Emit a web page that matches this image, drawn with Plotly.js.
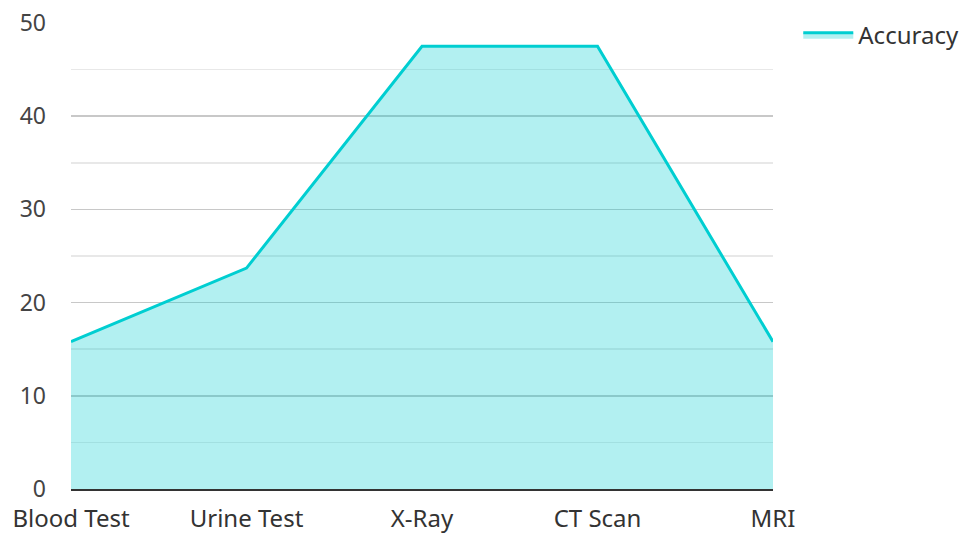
<!DOCTYPE html>
<html>
<head>
<meta charset="utf-8">
<script src="https://cdn.plot.ly/plotly-3.0.1.min.js"></script>
<style>html,body{margin:0;padding:0;background:#fff;}#chart{width:963px;height:533px;}</style>
</head>
<body>
<div id="chart"></div>
<script>
const categories = ["Blood Test", "Urine Test", "X-Ray", "CT Scan", "MRI"];
const accuracy = [15.8, 23.7, 47.5, 47.5, 15.8];
const seriesName = "Accuracy";

const trace = {
  x: categories,
  y: accuracy,
  name: seriesName,
  type: "scatter",
  mode: "lines",
  fill: "tozeroy",
  fillcolor: "rgba(0,206,209,0.3)",
  line: {color: "#00CED1", width: 3}
};

const layout = {
  width: 963,
  height: 533,
  margin: {l: 71, r: 190, t: 23, b: 44, autoexpand: false},
  paper_bgcolor: "#fff",
  plot_bgcolor: "#fff",
  font: {family: "Noto Sans, Open Sans, sans-serif", size: 23, color: "#444"},
  showlegend: true,
  legend: {x: 1.036, y: 1.022, xanchor: "left", yanchor: "top", itemwidth: 50, font: {size: 24, color: "#333"}, bgcolor: "rgba(0,0,0,0)"},
  xaxis: {
    type: "category",
    range: [0, 4],
    showgrid: false,
    showline: true,
    linecolor: "#333",
    linewidth: 2,
    ticks: "",
    ticklabelstandoff: 7,
    tickfont: {size: 24, color: "#333"},
    fixedrange: true
  },
  yaxis: {
    range: [0, 50],
    dtick: 10,
    showgrid: true,
    gridcolor: "#c8c8c8",
    gridwidth: 1.5,
    zeroline: false,
    ticks: "",
    ticklabelstandoff: 24,
    tickfont: {size: 23, color: "#444"},
    minor: {dtick: 5, showgrid: true, gridcolor: "#e8e8e8", gridwidth: 1.5},
    fixedrange: true
  }
};

Plotly.newPlot("chart", [trace], layout, {displayModeBar: false, staticPlot: true});
</script>
</body>
</html>
